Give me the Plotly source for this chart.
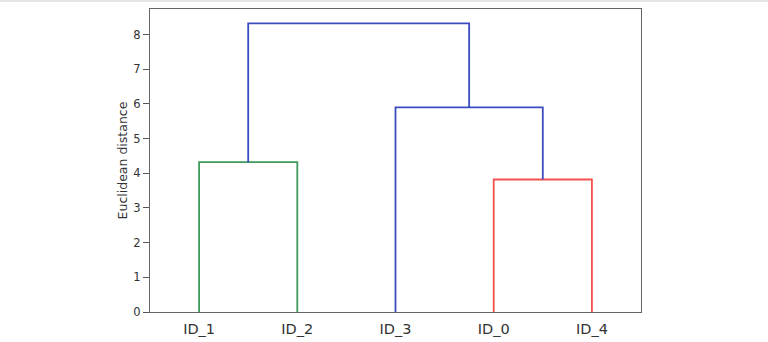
import plotly.graph_objects as go

# Dendrogram data (scipy-style coordinates)
leaf_labels = ["ID_1", "ID_2", "ID_3", "ID_0", "ID_4"]
leaf_positions = [5, 15, 25, 35, 45]
icoord = [
    [5, 5, 15, 15],
    [35, 35, 45, 45],
    [25, 25, 40, 40],
    [10, 10, 32.5, 32.5],
]
dcoord = [
    [0, 4.32, 4.32, 0],
    [0, 3.82, 3.82, 0],
    [0, 5.90, 5.90, 3.82],
    [4.32, 8.32, 8.32, 5.90],
]
link_colors = ["#3f9a5c", "#f4514c", "#3b4cc0", "#3b4cc0"]
y_ticks = [0, 1, 2, 3, 4, 5, 6, 7, 8]
y_title = "Euclidean distance"

fig = go.Figure()
for xs, ys, c in zip(icoord, dcoord, link_colors):
    fig.add_trace(go.Scatter(x=xs, y=ys, mode="lines",
                             line=dict(color=c, width=1.8),
                             hoverinfo="skip", showlegend=False))

ymax = max(max(d) for d in dcoord) * 1.05

fig.update_layout(
    width=768, height=342,
    margin=dict(l=150, r=127, t=9, b=30),
    plot_bgcolor="white", paper_bgcolor="white",
    font=dict(family="DejaVu Sans", color="#333333"),
    showlegend=False,
    shapes=[dict(type="line", xref="paper", yref="paper",
                 x0=-150/491, x1=(768-150)/491,
                 y0=1 + 8/303, y1=1 + 8/303,
                 line=dict(color="#dddddd", width=1.5))],
)
fig.update_xaxes(
    range=[0, 50], tickvals=leaf_positions, ticktext=leaf_labels,
    showgrid=False, zeroline=False, showline=True, mirror=True,
    linecolor="#666666", linewidth=1.3, ticks="",
    tickfont=dict(size=14.5, color="#333333"),
    ticklabelstandoff=3, automargin=False,
)
fig.update_yaxes(
    range=[0, ymax], tickvals=y_ticks,
    showgrid=False, zeroline=False, showline=True, mirror=True,
    linecolor="#666666", linewidth=1.3, ticks="outside", ticklen=6,
    tickcolor="#555555", tickwidth=1,
    tickfont=dict(size=11.5, color="#333333"),
    automargin=False,
    title=dict(text=y_title, font=dict(size=12.5, color="#333333"), standoff=2),
)

fig.write_html("out.html")
